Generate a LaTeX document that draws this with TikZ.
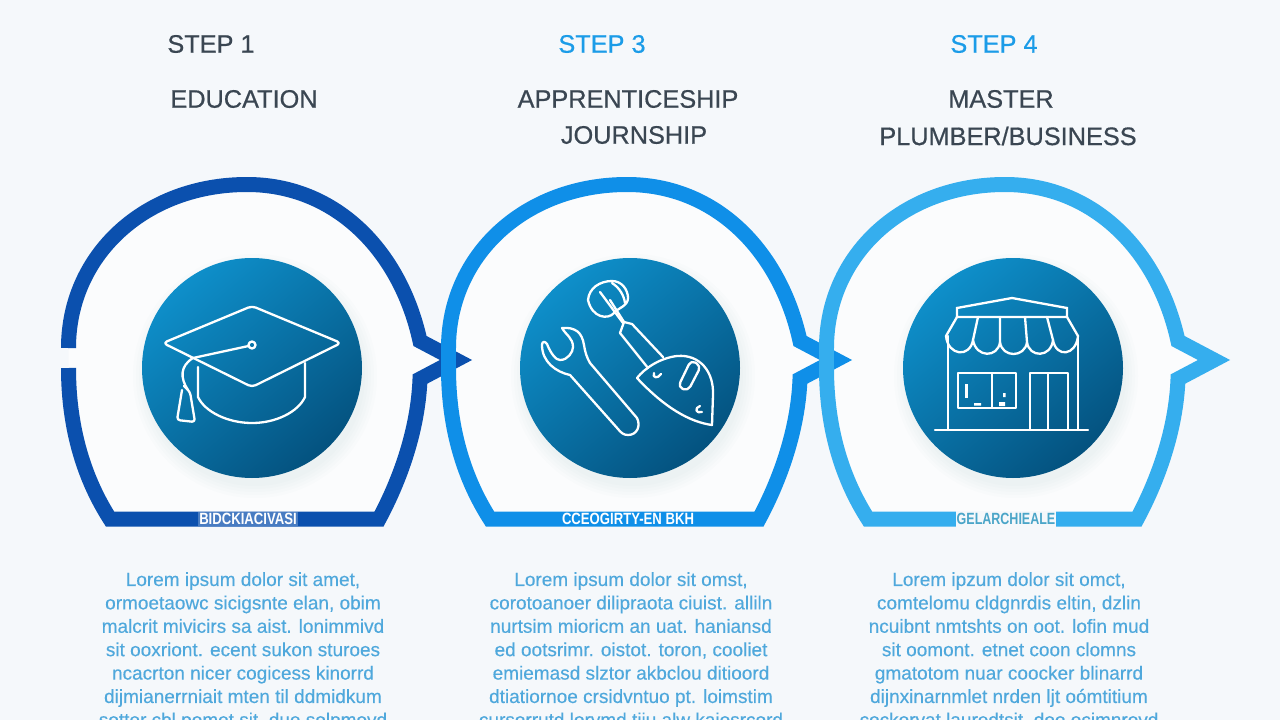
\documentclass[tikz,border=0pt]{standalone}
\usepackage{fontspec}
\setmainfont{Liberation Sans}
\newfontfamily\titlefont[FakeBold=0.6]{Liberation Sans}
\newfontfamily\bodyfont[FakeBold=0.3]{Liberation Sans}
\definecolor{stepone}{HTML}{0B50AE}
\definecolor{steptwo}{HTML}{0F8FE8}
\definecolor{stepthree}{HTML}{35AEEE}
\definecolor{titledark}{HTML}{3A4652}
\definecolor{titleblue}{HTML}{1B9CE8}
\definecolor{bodyblue}{HTML}{4FA8DC}
\definecolor{pagebg}{HTML}{F5F8FB}
\definecolor{discfrom}{HTML}{0E8FCA}
\definecolor{discto}{HTML}{04527F}
\definecolor{discshadow}{HTML}{5F7F9F}
\definecolor{barpale}{HTML}{4AA5C8}
\tikzset{
  steptitle/.style={inner sep=0pt,font=\titlefont\fontsize{25.3}{27}\selectfont},
  bodytext/.style={inner sep=0pt,anchor=north,align=center,text=bodyblue,font=\bodyfont\fontsize{19}{23.4}\selectfont},
  bartext/.style={inner sep=1pt,font=\bfseries\fontsize{12.5}{13}\selectfont},
  frameline/.style={line width=15pt,miter limit=10},
  disc/.style={top color=discfrom,bottom color=discto,shading angle=40,draw=none},
  iconline/.style={draw=white,line width=2.3pt,line cap=round,line join=round},
}
\newcommand{\framepath}{(68.5,348) .. controls (68.5,255) and (145,184.5) .. (247,184.5)
  .. controls (335,184.5) and (400,250) .. (420,341) -- (456,360) -- (420,379)
  .. controls (418,430) and (400,480) .. (379,519) -- (110,519)
  .. controls (85,480) and (68.5,430) .. (68.5,368)}
\begin{document}
\begin{tikzpicture}[x=1pt,y=-1pt]
\path[use as bounding box,clip] (0,0) rectangle (1280,720);
\fill[pagebg] (0,0) rectangle (1280,720);
\foreach \shiftx in {0,380,758}
  \fill[white,xshift=\shiftx pt,opacity=.6] \framepath -- cycle;

% frames, each one over the tip of the one before
\foreach \shiftx/\framecol in {0/stepone,380/steptwo,758/stepthree} {
  \draw[frameline,draw=\framecol,xshift=\shiftx pt] \framepath;
  \ifnum\shiftx>0
    \draw[line width=15pt,draw=\framecol,xshift=\shiftx pt] (68.5,345) -- (68.5,371);
  \fi
}

% discs
\foreach \discx/\discname in {252/discone,630/disctwo,1013/discthree} {
  \foreach \extra in {2,5,...,14}
    \fill[discshadow,opacity=.014] (\discx+3,376) circle ({108+\extra});
  \shade[disc] (\discx,368) circle (110);
  \path (\discx,368) coordinate (\discname);
}

% cap
\draw[iconline,rounded corners=4pt] (163,343) -- (252,306) -- (341,343) -- (252,387) -- cycle;
\draw[iconline] (198,367) -- (198,397) .. controls (205,412) and (228,423) .. (252,423)
  .. controls (276,423) and (298,412) .. (305,397) -- (305,363);
\draw[iconline] (252,345) circle (3.5);
\draw[iconline] (248.5,346) -- (193,358) .. controls (180,366) and (180,378) .. (188,390);
\draw[iconline,rounded corners=3pt] (182,390) -- (177,420) -- (195,422) -- (190,392) -- (184,386);

% wrench
\draw[iconline] (562,328) .. controls (575,327) and (582,332) .. (584,345)
  .. controls (585,352) and (587,358) .. (590,363) -- (637,418)
  .. controls (641,426) and (637,435) .. (628,435) .. controls (624,435) and (621,433) .. (618,429)
  -- (570,375) .. controls (556,372) and (542,362) .. (542,345) .. controls (542,341) and (545,341) .. (547,344)
  .. controls (551,354) and (556,360) .. (560,360) .. controls (568,360) and (573,352) .. (573,347)
  .. controls (573,338) and (566,335) .. (562,328) -- cycle;
% plunger
\draw[iconline] (588,300) .. controls (589,288) and (600,281) .. (612,281)
  .. controls (622,281) and (628,290) .. (628,298) .. controls (628,306) and (618,308) .. (614,313)
  .. controls (608,320) and (592,318) .. (588,300) -- cycle;
\draw[iconline] (600,292) -- (623,323) (612,283) .. controls (620,288) and (624,296) .. (625,303);
\draw[iconline] (610,300) -- (624,322) -- (620,333) -- (648,368);
\draw[iconline] (624,322) -- (632,324) -- (663,357);
% hard hat
\draw[iconline] (637,378) .. controls (645,368) and (660,358) .. (677,356)
  .. controls (700,354) and (714,372) .. (713,395) -- (712,425)
  .. controls (690,422) and (665,408) .. (637,378) -- cycle;
\draw[iconline,rounded corners=5pt] (691,360) -- (701,366) -- (688,391) -- (678,387) -- cycle;
\draw[iconline] (654,373) .. controls (652,378) and (658,379) .. (661,374);
\draw[iconline] (700,406) .. controls (694,408) and (696,414) .. (702,412);

% shop
\draw[iconline,line join=miter] (957,317) -- (957,308) -- (1012,298) -- (1067,308) -- (1067,317) -- cycle;
\draw[iconline] (957,317) -- (946,336) .. controls (948,356) and (970,358) .. (973,340)
  .. controls (976,358) and (998,358) .. (1000,342) .. controls (1002,358) and (1025,358) .. (1027,342)
  .. controls (1029,358) and (1051,358) .. (1053,340) .. controls (1056,358) and (1076,356) .. (1078,336) -- (1067,317);
\draw[iconline] (978,317) -- (973,340) (1000,317) -- (1000,342) (1025,317) -- (1027,342) (1047,317) -- (1053,340);
\draw[iconline] (948,336) -- (948,430) (1078,336) -- (1078,430) (935,430) -- (1088,430);
\draw[iconline,line cap=butt] (958,373) rectangle (1016,408) (992,373) -- (992,408);
\draw[iconline,line cap=butt] (1030,430) -- (1030,373) -- (1068,373) -- (1068,430) (1048,373) -- (1048,430);
\draw[iconline,line cap=butt,line width=3pt] (966,384) -- (966,398);
\fill[white] (974,403) rectangle (981,405.5) (999,402) rectangle (1005,406) (1003,393) rectangle (1005.5,397);

% top titles
\node[steptitle,text=titledark] (stepa) at (211,44) {STEP 1};
\node[steptitle,text=titleblue] (stepb) at (602,44) {STEP 3};
\node[steptitle,text=titleblue] (stepc) at (994,44) {STEP 4};
\node[steptitle,text=titledark] (roleA) at (244,99) {EDUCATION};
\node[steptitle,text=titledark] (roleB) at (628,99) {APPRENTICESHIP};
\node[steptitle,text=titledark] (roleBb) at (634,135) {JOURNSHIP};
\node[steptitle,text=titledark] (roleC) at (1001,99) {MASTER};
\node[steptitle,text=titledark] (roleCc) at (1008,136) {PLUMBER/BUSINESS};

% bar labels
\node[bartext,fill=stepone!75!white,text=white,minimum width=100pt,minimum height=14pt] (barA) at (248,519) {\scalebox{1.05}[1.3]{BIDCKIACIVASI}};
\node[bartext,text=white,minimum width=134pt] (barB) at (628,519) {\scalebox{1.05}[1.3]{CCEOGIRTY-EN BKH}};
\node[bartext,fill=pagebg,text=barpale,minimum width=99pt,minimum height=16pt] (barC) at (1006,519) {\scalebox{1}[1.3]{GELARCHIEALE}};

% body text
\node[bodytext] (bodyA) at (243,572) {Lorem ipsum dolor sit amet,\\
ormoetaowc sicigsnte elan, obim\\
malcrit mivicirs sa aist. lonimmivd\\
sit ooxriont. ecent sukon sturoes\\
ncacrton nicer cogicess kinorrd\\
dijmianerrniait mten til ddmidkum\\
sotter cbl pomet sit, due solpmovd};
\node[bodytext] (bodyB) at (631,572) {Lorem ipsum dolor sit omst,\\
corotoanoer dilipraota ciuist. alliln\\
nurtsim mioricm an uat. haniansd\\
ed ootsrimr. oistot. toron, cooliet\\
emiemasd slztor akbclou ditioord\\
dtiatiornoe crsidvntuo pt. loimstim\\
cursorrutd lorymd tiju alw kaiosrcord};
\node[bodytext] (bodyC) at (1009,572) {Lorem ipzum dolor sit omct,\\
comtelomu cldgnrdis eltin, dzlin\\
ncuibnt nmtshts on oot. lofin mud\\
sit oomont. etnet coon clomns\\
gmatotom nuar coocker blinarrd\\
dijnxinarnmlet nrden ljt oómtitium\\
cockoryat lauredtsit, doo ocimnrovd};
\end{tikzpicture}
\end{document}
